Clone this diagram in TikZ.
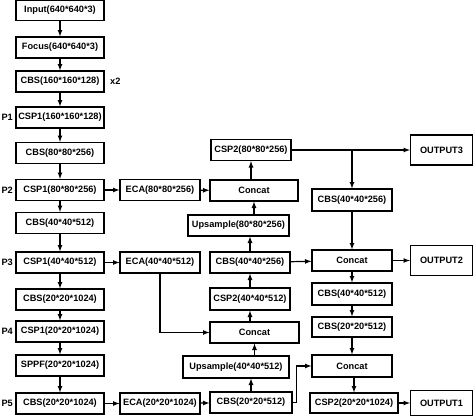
\documentclass[tikz,border=0pt]{standalone}
\usepackage{fontspec}
\setmainfont{Liberation Sans}
\usetikzlibrary{positioning}
\tikzset{
every picture/.style={
line width=1.2pt
}}

\begin{document}
\begin{tikzpicture}[x=1pt, y=-1pt, >=latex,
block/.style = {rectangle, draw=black, inner sep=1pt, minimum height=21pt, font=\fontsize{9.2}{10}\selectfont\bfseries},
tag/.style = {inner sep=1pt, font=\fontsize{9.2}{10}\selectfont\bfseries}]
\useasboundingbox (0,0) rectangle (474,418);
% backbone
\node[block, minimum width=88pt, minimum height=20pt] at (60,10.5) (inp) {Input(640*640*3)};
\node[block, minimum width=88pt] at (60,47.5) (focus) {Focus(640*640*3)};
\node[block, minimum width=88pt] at (60,81.5) (cbsa) {CBS(160*160*128)};
\node[block, minimum width=88pt] at (60,117.5) (cspa) {CSP1(160*160*128)};
\node[block, minimum width=88pt] at (60,153) (cbsb) {CBS(80*80*256)};
\node[block, minimum width=88pt] at (60,190) (cspb) {CSP1(80*80*256)};
\node[block, minimum width=88pt] at (60,223) (cbsc) {CBS(40*40*512)};
\node[block, minimum width=88pt] at (60,262.5) (cspc) {CSP1(40*40*512)};
\node[block, minimum width=88pt] at (60,299.5) (cbsd) {CBS(20*20*1024)};
\node[block, minimum width=88pt] at (60,331.5) (cspd) {CSP1(20*20*1024)};
\node[block, minimum width=88pt] at (60,365.5) (sppf) {SPPF(20*20*1024)};
\node[block, minimum width=88pt] at (60,403.5) (cbse) {CBS(20*20*1024)};
\node[tag, right=4pt of cbsa] (x2) {x2};
\node[tag, left=1pt of cspa] (p1) {P1};
\node[tag, left=1pt of cspb] (p2) {P2};
\node[tag, left=1pt of cspc] (p3) {P3};
\node[tag, left=1pt of cspd] (p4) {P4};
\node[tag, left=1pt of cbse] (p5) {P5};
% attention
\node[block, minimum width=80pt] at (160,190) (ecaa) {ECA(80*80*256)};
\node[block, minimum width=80pt] at (160,262.5) (ecab) {ECA(40*40*512)};
\node[block, minimum width=80pt] at (160,403.5) (ecac) {ECA(20*20*1024)};
% neck
\node[block, minimum width=80pt] at (251,150) (cspe) {CSP2(80*80*256)};
\node[block, minimum width=88pt] at (254,190.5) (cata) {Concat};
\node[block, minimum width=101pt] at (238.5,225.5) (upa) {Upsample(80*80*256)};
\node[block, minimum width=80pt] at (250,262.5) (cbsf) {CBS(40*40*256)};
\node[block, minimum width=80pt, minimum height=22pt] at (250,299) (cspf) {CSP2(40*40*512)};
\node[block, minimum width=89pt] at (254.5,332.5) (catb) {Concat};
\node[block, minimum width=106pt, minimum height=22pt] at (236,367) (upb) {Upsample(40*40*512)};
\node[block, minimum width=82pt] at (251,402.5) (cbsg) {CBS(20*20*512)};
% head
\node[block, minimum width=80pt, minimum height=22pt] at (352,200) (cbsh) {CBS(40*40*256)};
\node[block, minimum width=80pt] at (352,260.5) (catc) {Concat};
\node[block, minimum width=80pt, minimum height=22pt] at (352,294) (cbsi) {CBS(40*40*512)};
\node[block, minimum width=80pt, minimum height=20pt] at (352,327) (cbsj) {CBS(20*20*512)};
\node[block, minimum width=80pt, minimum height=22pt] at (352,366) (catd) {Concat};
\node[block, minimum width=88pt, minimum height=20pt] at (354,403) (cspg) {CSP2(20*20*1024)};
\node[block, minimum width=62pt, minimum height=30pt] at (441.5,150) (outc) {OUTPUT3};
\node[block, minimum width=62pt, minimum height=30pt] at (441.5,260.5) (outb) {OUTPUT2};
\node[block, minimum width=62pt, minimum height=25pt] at (441.5,403) (outa) {OUTPUT1};

\foreach \a/\b in {inp/focus, focus/cbsa, cbsa/cspa, cspa/cbsb, cbsb/cspb, cspb/cbsc,
  cbsc/cspc, cspc/cbsd, cbsd/cspd, cspd/sppf, sppf/cbse}
  \draw[->] (\a) -- (\b);
\draw[->] (cspb) -- (ecaa);
\draw[->] (ecaa) -- (cata);
\draw[->] (cspc) -- (ecab);
\draw[->] (ecab) |- (catb);
\draw[->] (cbse) -- (ecac);
\draw[->] (ecac) -- (cbsg);
% upward path
\draw[->] (cbsg.north) -- (cbsg.north |- upb.south);
\draw[->] (upb.north -| catb) -- (catb);
\draw[->] (catb.north -| cspf) -- (cspf);
\draw[->] (cspf) -- (cbsf);
\draw[->] (cbsf) -- (cbsf |- upa.south);
\draw[->] (upa.north -| cata) -- (cata);
\draw[->] (cata.north -| cspe) -- (cspe);
% outputs
\draw[->] (cspe) -- (outc);
\draw[->] (cspe.east -| cbsh) -- (cbsh);
\draw[->] (cbsh) -- (catc);
\draw[->] (cbsf) -- (catc);
\draw[->] (catc) -- (outb);
\draw[->] (catc) -- (cbsi);
\draw[->] (cbsi) -- (cbsj);
\draw[->] (cbsj) -- (catd);
\draw[->] (cbsg.east) -- ++(4,0) |- (catd.west);
\draw[->] (catd.south -| cspg.north) -- (cspg);
\draw[->] (cspg) -- (outa);

\end{tikzpicture}
\end{document}
